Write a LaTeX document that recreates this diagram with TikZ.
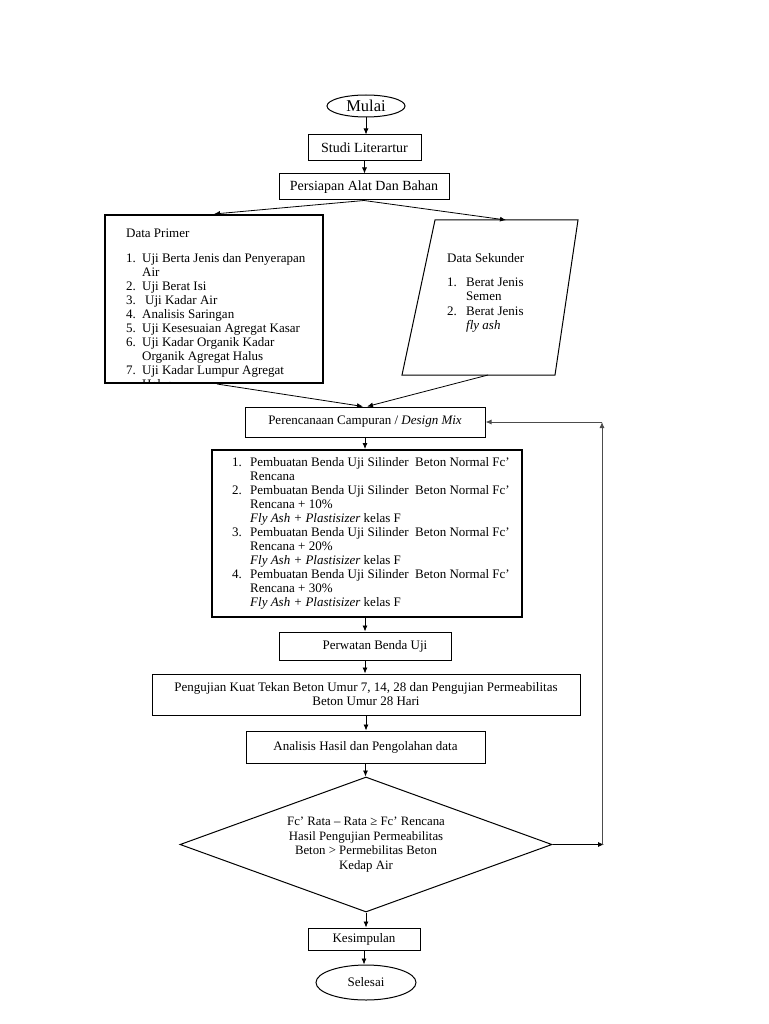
\documentclass[tikz,border=0pt]{standalone}
\usepackage{fontspec}
\setmainfont{Liberation Serif}
\usetikzlibrary{arrows.meta,shapes.geometric}
\setlength{\parskip}{0pt}
\setlength{\parindent}{0pt}
\newcommand{\fcitem}[3]{\par\noindent\hangindent=#1\hangafter=1\makebox[#1][l]{#2}#3}
\newcommand{\fcragged}{\rightskip=0pt plus 1fil\relax}
\begin{document}
\begin{tikzpicture}[x=1pt,y=-1pt,
  box/.style={draw, line width=1pt, rectangle, inner sep=0pt, align=center, font=\fontsize{13}{14}\selectfont},
  thickbox/.style={draw, line width=2pt, rectangle, inner sep=0pt},
  term/.style={draw, line width=1pt, ellipse, inner sep=0pt, font=\fontsize{13}{14}\selectfont},
  arr/.style={-{Latex[length=6pt,width=5pt]}, line width=0.8pt},
  fb/.style={-{Latex[length=6pt,width=5pt]}, line width=0.9pt, draw=black!70, fill=black!70},
  plain/.style={anchor=base west, inner sep=0pt}
]
\fill[white] (0,0) rectangle (768,1024);
\useasboundingbox (0,0) rectangle (768,1024);

% terminals and boxes
\node[term, minimum width=78pt, minimum height=22pt, font=\fontsize{16.5}{17}\selectfont] (mulai) at (366,106) {Mulai};
\node[box, minimum width=113pt, minimum height=26pt, font=\fontsize{14}{15}\selectfont] (studi) at (364.5,148) {Studi Literartur};
\node[box, minimum width=170pt, minimum height=26pt, font=\fontsize{14}{15}\selectfont] (persiapan) at (364,187) {Persiapan Alat Dan Bahan};

% Data Primer
\node[thickbox, minimum width=218pt, minimum height=168pt] (dp) at (214,299) {};
\begin{scope}
\clip ([xshift=1pt,yshift=1pt]dp.south west) rectangle ([xshift=-1pt,yshift=-1pt]dp.north east);
\node[plain] (dpt) at (126,237) {\begin{minipage}[t]{195pt}\fontsize{13}{14}\selectfont\fcragged
Data Primer\par\vspace{11pt}
\fcitem{16pt}{1.}{Uji Berta Jenis dan Penyerapan\\Air}
\fcitem{16pt}{2.}{Uji Berat Isi}
\fcitem{16pt}{3.}{\hspace{3pt}Uji Kadar Air}
\fcitem{16pt}{4.}{Analisis Saringan}
\fcitem{16pt}{5.}{Uji Kesesuaian Agregat Kasar}
\fcitem{16pt}{6.}{Uji Kadar Organik Kadar\\Organik Agregat Halus}
\fcitem{16pt}{7.}{Uji Kadar Lumpur Agregat\\Halus}\par
\end{minipage}};
\end{scope}

% Data Sekunder (parallelogram)
\coordinate (dsA) at (435,220);
\coordinate (dsB) at (578,220);
\coordinate (dsC) at (555,375);
\coordinate (dsD) at (402,375);
\coordinate (dsT) at (506,220);
\coordinate (dsS) at (488,375);
\draw[line width=1pt] (dsA) -- (dsB) -- (dsC) -- (dsD) -- cycle;
\node[plain] (dst) at (447,262) {\begin{minipage}[t]{110pt}\fontsize{13}{14.5}\selectfont\fcragged
Data Sekunder\par\vspace{9.5pt}
\fcitem{19pt}{1.}{Berat Jenis\\Semen}
\fcitem{19pt}{2.}{Berat Jenis\\\textit{fly ash}}\par
\end{minipage}};

% Perencanaan
\node[box, minimum width=240pt, minimum height=30pt] (pc) at (365,422) {Perencanaan Campuran / \textit{Design Mix}};

% main list box
\node[thickbox, minimum width=310pt, minimum height=167pt] (mb) at (367,533.5) {};
\node[plain] (mbt) at (232,466) {\begin{minipage}[t]{290pt}\fontsize{13}{14}\selectfont\fcragged
\fcitem{18pt}{1.}{Pembuatan Benda Uji Silinder\ \ Beton Normal Fc’\\Rencana}
\fcitem{18pt}{2.}{Pembuatan Benda Uji Silinder\ \ Beton Normal Fc’\\Rencana + 10\%\\\textit{Fly Ash + Plastisizer} kelas F}
\fcitem{18pt}{3.}{Pembuatan Benda Uji Silinder\ \ Beton Normal Fc’\\Rencana + 20\%\\\textit{Fly Ash + Plastisizer} kelas F}
\fcitem{18pt}{4.}{Pembuatan Benda Uji Silinder\ \ Beton Normal Fc’\\Rencana + 30\%\\\textit{Fly Ash + Plastisizer} kelas F}\par
\end{minipage}};

\node[box, minimum width=172pt, minimum height=28pt] (pw) at (365,646) {\hspace*{20pt}Perwatan Benda Uji};
\node[box, minimum width=428pt, minimum height=41pt] (pk) at (366,694.5) {Pengujian Kuat Tekan Beton Umur 7, 14, 28 dan Pengujian Permeabilitas\\Beton Umur 28 Hari};
\node[box, minimum width=239pt, minimum height=32pt] (an) at (365.5,747) {Analisis Hasil dan Pengolahan data};

\node[diamond, draw, line width=1pt, minimum width=372pt, minimum height=135pt, aspect=2.76, inner sep=0pt, align=center, font=\fontsize{12.8}{14.4}\selectfont] (dia) at (366,844.5) {Fc’ Rata – Rata ≥ Fc’ Rencana\\Hasil Pengujian Permeabilitas\\Beton > Permebilitas Beton\\Kedap Air};

\node[box, minimum width=112pt, minimum height=22pt] (ks) at (364,939) {Kesimpulan};
\node[term, minimum width=100pt, minimum height=35pt] (sl) at (366,982.5) {Selesai};

% connectors
\draw[arr] (mulai.south) -- (mulai.south |- studi.north);
\draw[arr] (studi.south) -- (studi.south |- persiapan.north);
\draw[arr] (persiapan.south) -- (dp.north);
\draw[arr] (persiapan.south) -- (dsT);
\draw[arr] ([xshift=3pt]dp.south) -- ([xshift=-2pt]pc.north);
\draw[arr] (dsS) -- ([xshift=2pt]pc.north);
\draw[arr] (pc.south) -- (pc.south |- mb.north);
\draw[arr] (mb.south -| pw.north) -- (pw.north);
\draw[arr] (pw.south) -- (pw.south |- pk.north);
\draw[arr] (pk.south) -- (pk.south |- an.north);
\draw[arr] (an.south) -- (an.south |- dia.north);
\draw[arr] (dia.south) -- (dia.south |- ks.north);
\draw[arr] (ks.south) -- (ks.south |- sl.north);

% feedback loop
\coordinate (fb1) at (604,844.5);
\coordinate (fb2) at (602,422);
\draw[arr] (dia.east) -- (fb1);
\draw[fb] ([xshift=-2pt]fb1) -- (fb2);
\draw[fb] (fb2) -- (pc.east);
\end{tikzpicture}
\end{document}
